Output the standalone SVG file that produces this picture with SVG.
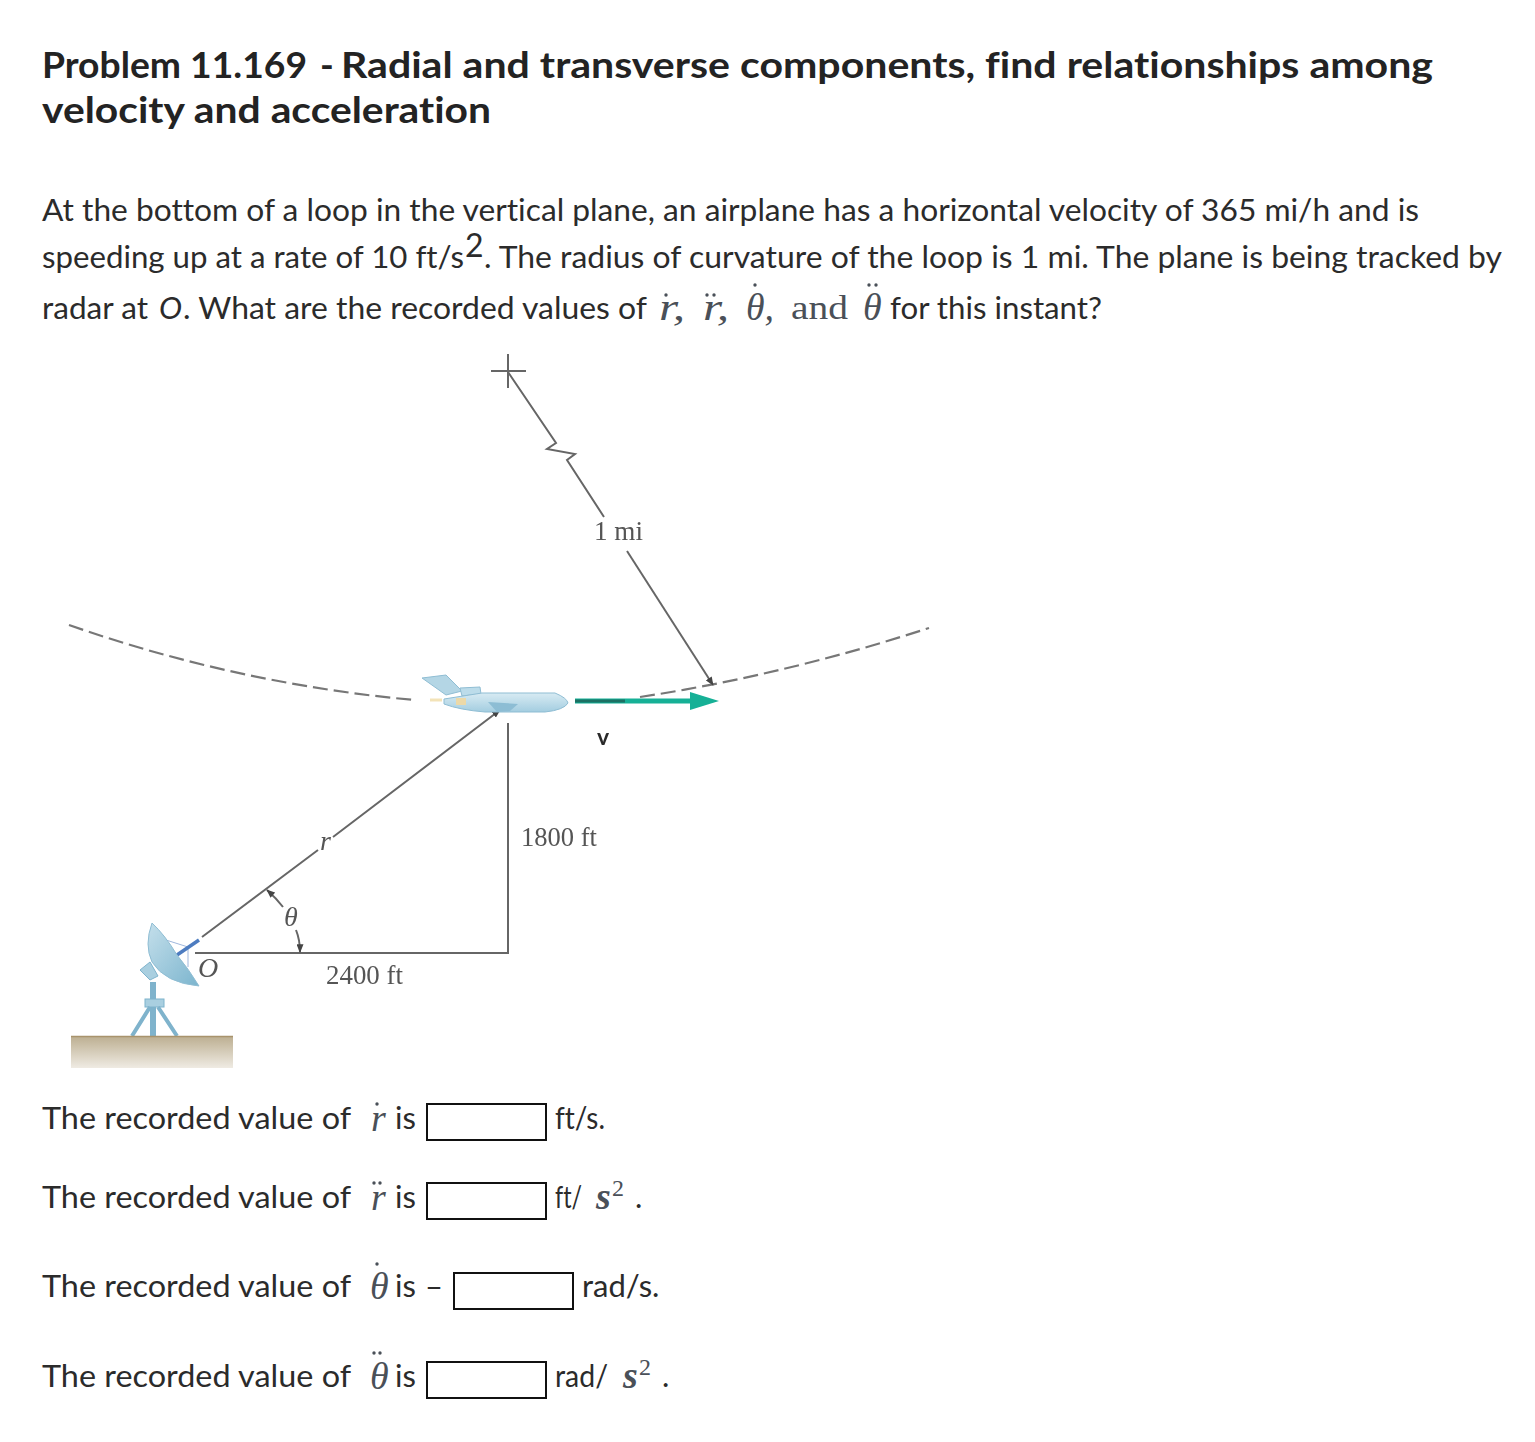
<svg xmlns="http://www.w3.org/2000/svg" width="1535" height="1442" viewBox="0 0 1535 1442">
<style>
text{font-family:"Lato","Liberation Sans",sans-serif;fill:#2b2b2b;font-variant-ligatures:none}
.t{font-size:37px;font-weight:700;fill:#232323}
.b{font-size:31px}
.m{font-family:"Liberation Serif",serif;font-style:italic;fill:#4a5058;font-size:38px}
.mn{font-family:"Liberation Serif",serif;fill:#4a5058}
.d{font-family:"Liberation Serif",serif;font-size:28px;fill:#555}
.i{font-family:"Liberation Serif",serif;font-size:28px;font-style:italic;fill:#555}
.box{fill:#fff;stroke:#111;stroke-width:2}
.ln{fill:none;stroke:#666;stroke-width:2}
.dash{fill:none;stroke:#777;stroke-width:2.2;stroke-dasharray:15 6}
.dot{fill:#4a5058}
.soft{filter:url(#soft)}
</style>
<defs>
<filter id="soft" x="-5%" y="-5%" width="110%" height="110%"><feGaussianBlur stdDeviation="0.6"/></filter>
<marker id="ah" viewBox="0 0 10 8" refX="9" refY="4" markerWidth="9" markerHeight="7" markerUnits="userSpaceOnUse" orient="auto"><path d="M0 0L10 4L0 8z" fill="#444"/></marker>
<linearGradient id="gnd" x1="0" y1="0" x2="0" y2="1"><stop offset="0" stop-color="#bcae90"/><stop offset="1" stop-color="#efebe3"/></linearGradient>
<linearGradient id="dish" x1="0" y1="0" x2="1" y2="1"><stop offset="0" stop-color="#c4dfeb"/><stop offset="1" stop-color="#7cb5ce"/></linearGradient>
<linearGradient id="fus" x1="0" y1="0" x2="0" y2="1"><stop offset="0" stop-color="#d8ebf3"/><stop offset="1" stop-color="#a3cde0"/></linearGradient>
</defs>

<g id="heading">
<text class="t" x="42" y="78" textLength="265" lengthAdjust="spacingAndGlyphs">Problem 11.169</text>
<text class="t" x="320" y="78">-</text>
<text class="t" x="341" y="78" textLength="1092" lengthAdjust="spacingAndGlyphs">Radial and transverse components, find relationships among</text>
<text class="t" x="42" y="123" textLength="449" lengthAdjust="spacingAndGlyphs">velocity and acceleration</text>
</g>

<g id="statement">
<text class="b" x="42" y="221" textLength="1377" lengthAdjust="spacingAndGlyphs">At the bottom of a loop in the vertical plane, an airplane has a horizontal velocity of 365 mi/h and is</text>
<text class="b" x="42" y="268" textLength="422" lengthAdjust="spacingAndGlyphs">speeding up at a rate of 10 ft/s</text>
<text x="465" y="257" font-size="32">2</text>
<text class="b" x="484" y="268" textLength="1018" lengthAdjust="spacingAndGlyphs">. The radius of curvature of the loop is 1 mi. The plane is being tracked by</text>
<text class="b" x="42" y="319" textLength="106" lengthAdjust="spacingAndGlyphs">radar at</text>
<text class="b" x="159" y="319" font-style="italic">O</text>
<text class="b" x="183" y="319" textLength="464" lengthAdjust="spacingAndGlyphs">. What are the recorded values of</text>
<text class="m" x="659" y="320" textLength="26" lengthAdjust="spacingAndGlyphs">r,</text>
<circle class="dot" cx="666" cy="295" r="1.7"/>
<text class="m" x="703" y="320" textLength="26" lengthAdjust="spacingAndGlyphs">r,</text>
<circle class="dot" cx="707" cy="295" r="1.7"/><circle class="dot" cx="714" cy="295" r="1.7"/>
<text class="m" x="746" y="320" textLength="28" lengthAdjust="spacingAndGlyphs">θ,</text>
<circle class="dot" cx="755" cy="285" r="1.7"/>
<text class="mn" x="791" y="319" font-size="34" textLength="57" lengthAdjust="spacingAndGlyphs">and</text>
<text class="m" x="863" y="320">θ</text>
<circle class="dot" cx="869" cy="285" r="1.7"/><circle class="dot" cx="876" cy="285" r="1.7"/>
<text class="b" x="890" y="319" textLength="212" lengthAdjust="spacingAndGlyphs">for this instant?</text>
</g>

<g id="connectors" class="soft">
<path class="dash" d="M69 625C180 664 300 690 415 700"/>
<path class="dash" d="M640 697C740 682 840 657 929 628"/>
<path class="ln" d="M491 371H526M508 354V388"/>
<path class="ln" d="M508 372L556 443L547 449L575 454L567 460L604 517"/>
<path class="ln" d="M627 551L713 685" marker-end="url(#ah)"/>
<path class="ln" d="M202 937L318 850M333 837L500 710" marker-end="url(#ah)"/>
<path class="ln" d="M508 723V953H195"/>
<path class="ln" d="M283 907Q276 898 267 890" marker-end="url(#ah)"/>
<path class="ln" d="M296 930Q300 940 300 952" marker-end="url(#ah)"/>
<path d="M575 701H690" stroke="#15b096" stroke-width="5" fill="none"/>
<path d="M575 701H625" stroke="#1d6f63" stroke-width="3" fill="none"/>
<path d="M690 692L719 701L690 710z" fill="#15b096"/>
</g>

<g id="plane" class="soft">
<path d="M422 678L446 675L462 691L446 695z" fill="#b4d6e5" stroke="#8fbdd3"/>
<path d="M460 688L480 687L481 694L462 696z" fill="#bcdcea" stroke="#8fbdd3"/>
<path d="M444 699L482 693H555Q567 698 568 703Q564 710 545 712H485Q460 710 444 704z" fill="url(#fus)" stroke="#8fbdd3"/>
<path d="M488 702L518 704L510 711L497 712z" fill="#8dbdd4"/>
<path d="M430 700H442" stroke="#f3e3b8" stroke-width="3"/>
<rect x="456" y="698" width="10" height="7" fill="#ecd9a8"/>
</g>

<g id="radar" class="soft">
<path d="M166 940L188 947L199 941M188 947V967" stroke="#9fb7dc" stroke-width="1" fill="none"/>
<path d="M177 955L199 940" stroke="#4d7cc0" stroke-width="3.5"/>
<path d="M140 970L150 962L158 976L150 980z" fill="#a9cfe0" stroke="#7fb3cc"/>
<path d="M152 923Q144 945 152 962Q165 983 199 986Q188 968 177 955Q165 935 152 923z" fill="url(#dish)" stroke="#8fbdd3"/>
<path d="M153 982V1036" stroke="#7fb3cc" stroke-width="6"/>
<rect x="145" y="999" width="19" height="8" fill="#a9cfe0" stroke="#7fb3cc"/>
<path d="M150 1007L132 1036M158 1007L177 1036" stroke="#7fb3cc" stroke-width="4"/>
</g>

<g id="ground" class="soft"><rect x="71" y="1036" width="162" height="32" fill="url(#gnd)"/><path d="M71 1036.5H233" stroke="#a8936c" stroke-width="1.5"/></g>

<g id="labels" class="soft">
<text class="d" x="594" y="540" font-size="26" textLength="49" lengthAdjust="spacingAndGlyphs">1 mi</text>
<text x="597" y="745" font-size="23" font-weight="700" fill="#333">v</text>
<text class="d" x="521" y="846" textLength="76" lengthAdjust="spacingAndGlyphs">1800 ft</text>
<text class="i" x="320" y="850" font-size="22">r</text>
<text class="i" x="284" y="926">θ</text>
<text class="i" x="198" y="977">O</text>
<text class="d" x="326" y="984" textLength="77" lengthAdjust="spacingAndGlyphs">2400 ft</text>
</g>

<g id="answer1">
<text class="b" x="42" y="1129" textLength="309" lengthAdjust="spacingAndGlyphs">The recorded value of</text>
<text class="m" x="371" y="1131">r</text><circle class="dot" cx="377" cy="1104" r="1.7"/>
<text class="b" x="395" y="1129">is</text>
<rect class="box" x="427" y="1104" width="119" height="36"/>
<text class="b" x="555" y="1129" textLength="50" lengthAdjust="spacingAndGlyphs">ft/s.</text>
</g>
<g id="answer2">
<text class="b" x="42" y="1208" textLength="309" lengthAdjust="spacingAndGlyphs">The recorded value of</text>
<text class="m" x="371" y="1210">r</text><circle class="dot" cx="374" cy="1183" r="1.7"/><circle class="dot" cx="380" cy="1183" r="1.7"/>
<text class="b" x="395" y="1208">is</text>
<rect class="box" x="427" y="1183" width="119" height="36"/>
<text class="b" x="555" y="1208" textLength="27" lengthAdjust="spacingAndGlyphs">ft/</text>
<text class="m" x="596" y="1209" font-weight="700">s</text>
<text class="mn" x="612" y="1196" font-size="24">2</text>
<text class="b" x="635" y="1208">.</text>
</g>
<g id="answer3">
<text class="b" x="42" y="1297" textLength="309" lengthAdjust="spacingAndGlyphs">The recorded value of</text>
<text class="m" x="370" y="1299">θ</text><circle class="dot" cx="377" cy="1264" r="1.7"/>
<text class="b" x="395" y="1297">is</text>
<text class="b" x="425" y="1297" textLength="18" lengthAdjust="spacingAndGlyphs">–</text>
<rect class="box" x="454" y="1273" width="119" height="36"/>
<text class="b" x="582" y="1297">rad/s.</text>
</g>
<g id="answer4">
<text class="b" x="42" y="1387" textLength="309" lengthAdjust="spacingAndGlyphs">The recorded value of</text>
<text class="m" x="370" y="1389">θ</text><circle class="dot" cx="374" cy="1353" r="1.7"/><circle class="dot" cx="380" cy="1353" r="1.7"/>
<text class="b" x="395" y="1387">is</text>
<rect class="box" x="427" y="1362" width="119" height="36"/>
<text class="b" x="555" y="1387" textLength="53" lengthAdjust="spacingAndGlyphs">rad/</text>
<text class="m" x="623" y="1388" font-weight="700">s</text>
<text class="mn" x="639" y="1375" font-size="24">2</text>
<text class="b" x="662" y="1387">.</text>
</g>
</svg>
